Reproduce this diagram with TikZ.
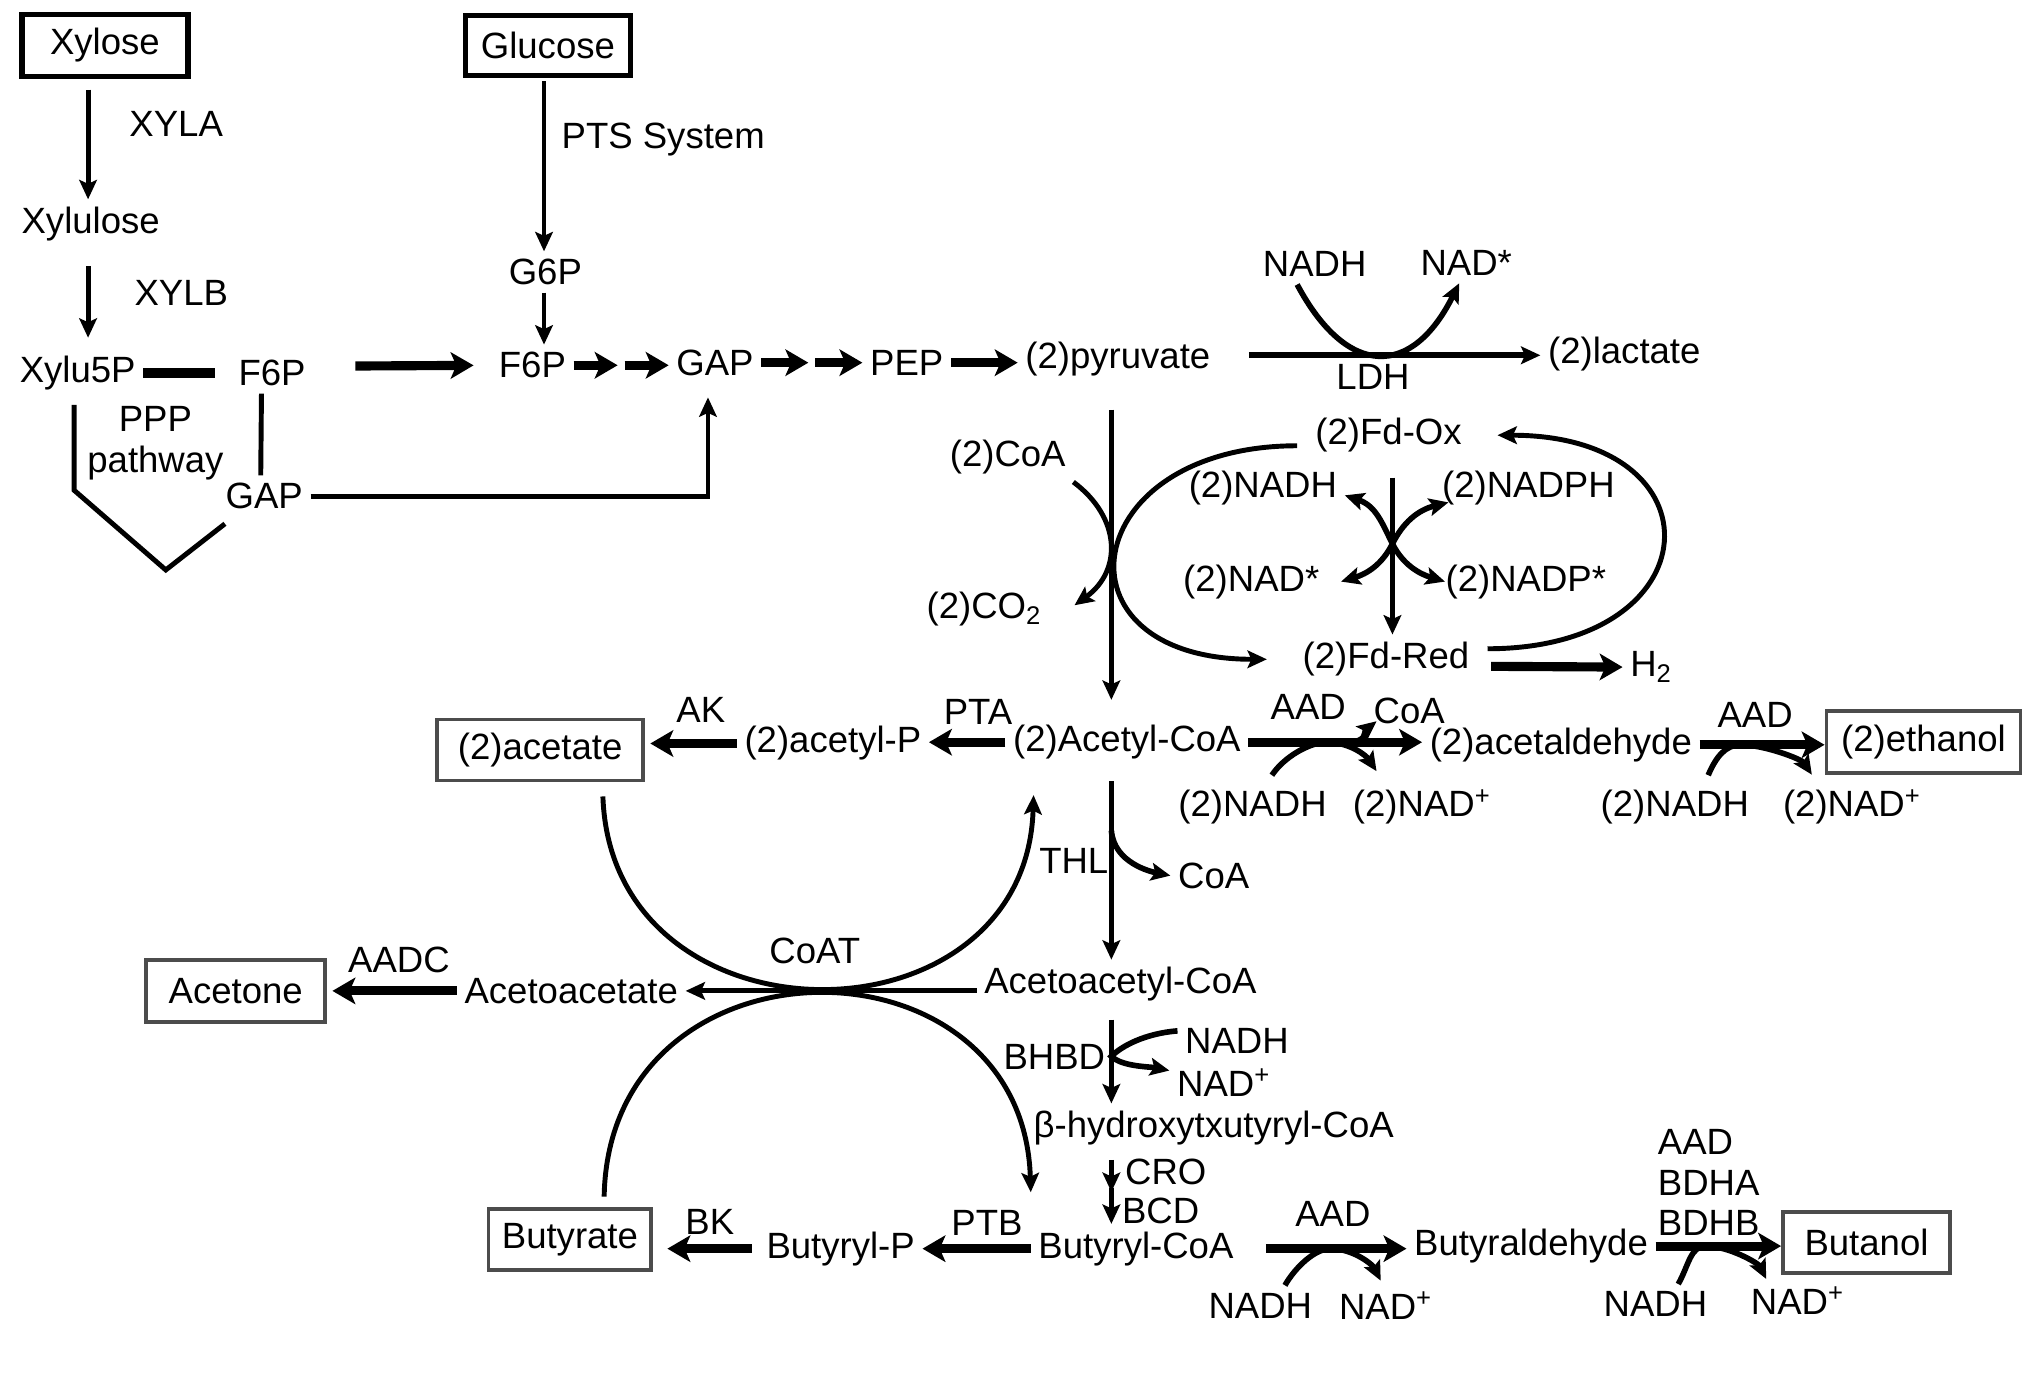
\documentclass[tikz,border=0pt]{standalone}
\usepackage{fontspec}
\setmainfont{Liberation Sans}
\usepackage{tikz}
\usetikzlibrary{arrows.meta}

\tikzset{
  srcbox/.style = {draw, line width=1.5pt, minimum height=0.62cm},
  endbox/.style = {draw=black!70, line width=1.1pt, minimum height=0.61cm},
  heavy/.style = {line width=2.6pt, >={Stealth[length=6.5pt,width=7.5pt,inset=1.6pt]}},
  cof/.style = {line width=1.6pt},
}

\begin{document}
\begin{tikzpicture}[x=0.012953cm, y=-0.012953cm, >={Stealth[length=5.5pt,width=5pt,inset=1.1pt]},
    line width=1.4pt, inner sep=1.5pt, font=\fontsize{10.4}{11.6}\selectfont]
  \useasboundingbox (0,0) rectangle (1568,1080);
  \coordinate (xax) at (68,0);
  \coordinate (gax) at (420,0);
  \coordinate (ax) at (858,0);
  \coordinate (fdax) at (1075,0);

  \node[srcbox, minimum width=1.66cm] (xylose) at (81,35) {Xylose};
  \node (xyla) at (136,96) {XYLA};
  \node (xylulose) at (70,173) {Xylulose};
  \node (xylb) at (140,226) {XYLB};
  \node (xylu5p) at (60,288) {Xylu5P};
  \node (f6pa) at (210,288) {F6P};
  \node[align=center] (ppp) at (120,342) {PPP\\pathway};
  \node (gapa) at (204,383) {GAP};
  \node[srcbox, minimum width=1.65cm, minimum height=0.6cm] (glucose) at (423,35) {Glucose};
  \node (pts) at (512,108) {PTS System};
  \node (g6p) at (421,210) {G6P};
  \node (f6pb) at (411,282) {F6P};
  \node (gapb) at (552,280) {GAP};
  \node (pep) at (700,280) {PEP};
  \node (pyr) at (863,277) {(2)pyruvate};
  \node (lac) at (1254,273) {(2)lactate};
  \node (nadh1) at (1015,204) {NADH};
  \node (nad1) at (1132,203) {NAD*};
  \node (ldh) at (1060,291) {LDH};

  \draw[->, shorten <=3pt] (xylose.south -| xax) -- (xylulose.north -| xax);
  \draw[->, shorten <=5pt, shorten >=3pt] (xylulose.south -| xax) -- (xylu5p.north -| xax);
  \draw[heavy, shorten >=4.4pt] (xylu5p.east) -- (f6pa.west);
  \draw ([xshift=-1pt,yshift=-2pt]xylu5p.south) -- ++(0,66) -- (128,440) -- ([xshift=2pt,yshift=-2pt]gapa.south west);
  \draw ([xshift=-3pt]f6pa.south) -- ([xshift=-1pt]gapa.north);
  \draw[->] (gapa.east) -| ([xshift=-2pt,yshift=-4pt]gapb.south);
  \draw[->, shorten <=1pt] (glucose.south -| gax) -- (g6p.north -| gax);
  \draw[->] (g6p.south -| gax) -- (f6pb.north -| gax);
  \draw[heavy,->, shorten >=5pt] ([xshift=12pt,yshift=2pt]f6pa.east) -- (f6pb.west);
  \path (f6pb.east) -- coordinate[pos=0.5] (fg) (f6pb.east -| gapb.west);
  \draw[heavy,->] (f6pb.east) -- ([xshift=-1pt]fg);
  \draw[heavy,->] ([xshift=1pt]fg) -- (f6pb.east -| gapb.west);
  \path (gapb.east) -- coordinate[pos=0.5] (gp) (gapb.east -| pep.west);
  \draw[heavy,->] (gapb.east) -- ([xshift=-1pt]gp);
  \draw[heavy,->] ([xshift=1pt]gp) -- (gapb.east -| pep.west);
  \draw[heavy,->] (pep.east) -- (pep.east -| pyr.west);
  \draw[->, line width=1.6pt, shorten <=8.8pt] ([yshift=1pt]pyr.east) -- ([yshift=1pt]pyr.east -| lac.west);
  \draw[cof,->] ([xshift=-5pt]nadh1.south) .. controls (1040,292) and (1090,292) .. ([xshift=-2pt]nad1.south);

  \node (coa1) at (778,353) {(2)CoA};
  \node (co2) at (760,470) {(2)CO\textsubscript{2}};
  \node (fdox) at (1072,336) {(2)Fd-Ox};
  \node (fdred) at (1070,509) {(2)Fd-Red};
  \node (h2) at (1275,515) {H\textsubscript{2}};
  \node (nadh2) at (975,377) {(2)NADH};
  \node (nadph) at (1180,377) {(2)NADPH};
  \node (nad2) at (966,449) {(2)NAD*};
  \node (nadp) at (1178,449) {(2)NADP*};

  \node[endbox, minimum width=2.06cm] (acetate) at (417,579) {(2)acetate};
  \node (ak) at (541,548) {AK};
  \node (acetylp) at (643,574) {(2)acetyl-P};
  \node (pta) at (755,550) {PTA};
  \node (acoa) at (870,573) {(2)Acetyl-CoA};
  \node (aad1) at (1010,546) {AAD};
  \node (coa2) at (1088,549) {CoA};
  \node (nadh3) at (967,623) {(2)NADH};
  \node (nad3) at (1098,623) {(2)NAD\textsuperscript{+}};
  \node (ald) at (1205,575) {(2)acetaldehyde};
  \node (aad2) at (1355,552) {AAD};
  \node (nadh4) at (1293,623) {(2)NADH};
  \node (nad4) at (1430,623) {(2)NAD\textsuperscript{+}};
  \node[endbox, minimum width=1.94cm, minimum height=0.62cm] (ethanol) at (1485,573) {(2)ethanol};

  \draw[->, shorten <=7.4pt, shorten >=5pt] (pyr.south -| ax) -- (acoa.north -| ax);
  \draw[->] (coa1.south east) .. controls (866,400) and (866,441) .. ([xshift=7pt,yshift=1pt]co2.east);
  \draw[->] ([xshift=-3pt,yshift=-3pt]fdox.west) .. controls +(-170,0) and +(-170,0) .. ([xshift=-8pt]fdred.west);
  \draw[->] ([xshift=3pt,yshift=3pt]fdred.east) .. controls +(175,0) and +(175,0) .. ([xshift=8pt]fdox.east);
  \draw[heavy,->] ([xshift=4pt,yshift=-2pt]fdred.east) -- (h2.west);
  \draw[->, shorten <=5pt] (fdox.south -| fdax) -- coordinate[pos=0.48] (fdx) (fdred.north -| fdax);
  \draw[cof,<->] ([yshift=-2pt]nadh2.east) .. controls +(24,8) and +(-8,-16) .. (fdx) .. controls +(8,16) and +(-20,-6) .. ([xshift=2pt]nadp.west);
  \draw[cof,<->] ([xshift=4pt,yshift=-4pt]nadph.west) .. controls +(-24,6) and +(8,-16) .. (fdx) .. controls +(-8,16) and +(20,-6) .. ([xshift=4pt]nad2.east);

  \draw[heavy,->] (acoa.west) -- (acoa.west -| acetylp.east);
  \draw[heavy,->, shorten >=1.5pt] (acetylp.west) -- (acetylp.west -| acetate.east);
  \draw[heavy,->] (acoa.east) -- coordinate[pos=0.45] (aadm) coordinate[pos=0.56] (aadc) (acoa.east -| ald.west);
  \draw[cof,->] ([xshift=5.5pt,yshift=2pt]nadh3.north) .. controls +(10,-15) and +(-12,0) .. (aadm) .. controls +(18,0) and +(-8,-12) .. ([xshift=-13pt,yshift=3pt]nad3.north);
  \draw[cof,->] (aadc) .. controls +(18,0) and +(-10,8) .. ([xshift=3pt,yshift=3pt]coa2.south west);
  \draw[heavy,->] (ald.east) -- coordinate[pos=0.33] (aadn) (ald.east -| ethanol.west);
  \draw[cof,->] ([xshift=9.5pt,yshift=2pt]nadh4.north) .. controls +(6,-14) and +(-12,0) .. (aadn) .. controls +(18,0) and +(-8,-12) .. ([xshift=-11.5pt,yshift=2pt]nad4.north);

  \node (thl) at (829,665) {THL};
  \node (coa3) at (937,676) {CoA};
  \node (aacoa) at (865,760) {Acetoacetyl-CoA};
  \node (coat) at (629,734) {CoAT};
  \node (aac) at (441,765) {Acetoacetate};
  \node (aadc) at (308,741) {AADC};
  \node[endbox, minimum width=1.79cm, minimum height=0.62cm] (acetone) at (182,765) {Acetone};
  \node (bhbd) at (814,816) {BHBD};
  \node (nadh5) at (955,804) {NADH};
  \node (nad5) at (945,836) {NAD\textsuperscript{+}};
  \node (hbcoa) at (937,871) {β-hydroxytxutyryl-CoA};
  \node (cro) at (900,905) {CRO};
  \node (bcd) at (896,935) {BCD};

  \draw[->, shorten <=4pt] (acoa.south -| ax) -- coordinate[pos=0.33] (thx) (aacoa.north -| ax);
  \draw[cof,->] (thx) .. controls +(2,25) and +(-15,-3) .. (coa3.west);
  \draw[->] (aac.east -| aacoa.west) -- (aac.east);
  \draw[heavy,->, shorten >=1.5pt] (aac.west) -- (aac.west -| acetone.east);
  \draw[->] ([xshift=-12pt,yshift=-4pt]acetate.south east) .. controls (472,812) and (792,812) .. ([xshift=8pt,yshift=-8pt]acoa.south west);
  \draw[->, shorten <=3pt] (aacoa.south -| ax) -- coordinate[pos=0.5] (bhx) (hbcoa.north -| ax);
  \draw[cof,->] ([yshift=3pt]nadh5.west) .. controls +(-25,2) and +(8,-8) .. (bhx) .. controls +(8,8) and +(-15,-3) .. ([yshift=3.5pt]nad5.west);

  \node[endbox, minimum width=1.63cm] (butyrate) at (440,957) {Butyrate};
  \node (bk) at (548,943) {BK};
  \node (butp) at (649,964) {Butyryl-P};
  \node (ptb) at (762,944) {PTB};
  \node (bcoa) at (877,964) {Butyryl-CoA};
  \node (aad3) at (1029,937) {AAD};
  \node (nadh6) at (973,1008) {NADH};
  \node (nad6) at (1070,1008) {NAD\textsuperscript{+}};
  \node (bald) at (1182,962) {Butyraldehyde};
  \node[align=left, anchor=west] (enz) at (1274,913) {AAD\\BDHA\\BDHB};
  \node (nadh7) at (1278,1007) {NADH};
  \node (nad7) at (1388,1004) {NAD\textsuperscript{+}};
  \node[endbox, minimum width=1.67cm] (butanol) at (1441,959) {Butanol};

  \path (hbcoa.south -| ax) -- coordinate[pos=0.5] (crox) (bcoa.north -| ax);
  \draw[->, shorten <=2pt] (hbcoa.south -| ax) -- ([yshift=-1pt]crox);
  \draw[->] (crox) -- (bcoa.north -| ax);
  \draw[->] ([xshift=-14pt,yshift=3pt]butyrate.north east) .. controls (470,716) and (790,716) .. ([yshift=9pt]bcoa.north west);
  \draw[heavy,->] (bcoa.west) -- (bcoa.west -| butp.east);
  \draw[heavy,->, shorten <=2pt, shorten >=4pt] (butp.west) -- (butp.west -| butyrate.east);
  \draw[heavy,->] ([xshift=7pt]bcoa.east) -- coordinate[pos=0.46] (aado) (bcoa.east -| bald.west);
  \draw[cof,->] ([xshift=7pt]nadh6.north) .. controls +(8,-14) and +(-12,0) .. (aado) .. controls +(18,0) and +(-6,-12) .. ([xshift=-1.5pt,yshift=1pt]nad6.north);
  \draw[heavy,->] (bald.east) -- coordinate[pos=0.4] (aadp) (bald.east -| butanol.west);
  \draw[cof,->] ([xshift=6.5pt]nadh7.north) .. controls +(8,-14) and +(-12,0) .. (aadp) .. controls +(18,0) and +(-6,-12) .. ([xshift=-9pt]nad7.north);
\end{tikzpicture}
\end{document}
